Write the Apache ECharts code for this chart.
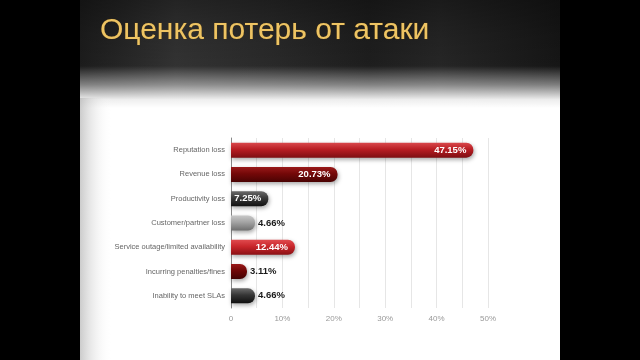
<!DOCTYPE html>
<html><head><meta charset="utf-8">
<script src="https://cdn.jsdelivr.net/npm/echarts@6/dist/echarts.min.js"></script>
<style>html,body{margin:0;padding:0;background:#000}#c{width:640px;height:360px}</style>
</head><body><div id="c"></div>
<script>
var categories = ['Reputation loss','Revenue loss','Productivity loss','Customer/partner loss','Service outage/limited availability','Incurring penalties/fines','Inability to meet SLAs'];
var values = [47.15, 20.73, 7.25, 4.66, 12.44, 3.11, 4.66];
var tickLabels = ['0','10%','20%','30%','40%','50%'];
var titleText = 'Оценка потерь от атаки';

var G = echarts.graphic.LinearGradient;
function grad(top, mid, bot){ return new G(0,0,0,1,[{offset:0,color:top},{offset:0.45,color:mid},{offset:1,color:bot}]); }
var styles = [
  {c:grad('#d9484c','#b81d23','#7e0e12'), inside:true},
  {c:grad('#9a1a1a','#740808','#4a0303'), inside:true},
  {c:grad('#6a6a6a','#3a3a3a','#111'), inside:true},
  {c:grad('#c8c8c8','#a3a3a3','#6f6f6f'), inside:false},
  {c:grad('#e04a4e','#c8262b','#8a1014'), inside:true},
  {c:grad('#9a1a1a','#6e0606','#420202'), inside:false},
  {c:grad('#6a6a6a','#353535','#0e0e0e'), inside:false}
];
var data = values.map(function(v,i){
  var s = styles[i];
  return {value:v, itemStyle:{color:s.c},
    label:{position: s.inside?'insideRight':'right', color: s.inside?'#fff':'#1a1a1a', distance: s.inside?7:3}};
});

var chart = echarts.init(document.getElementById('c'));
chart.setOption({
  backgroundColor:'#000',
  animation:false,
  graphic:[
    {type:'rect', z:-10, shape:{x:80,y:0,width:480,height:360},
      style:{fill:new G(1,0,0,0,[{offset:0,color:'#161616'},{offset:0.25,color:'#262626'},{offset:0.4,color:'#1e1e1e'},{offset:0.6,color:'#2a2a2a'},{offset:0.8,color:'#333'},{offset:1,color:'#1c1c1c'}])}},
    {type:'rect', z:-9, shape:{x:80,y:0,width:480,height:70},
      style:{fill:new G(0,0,0,1,[{offset:0,color:'rgba(0,0,0,0.3)'},{offset:0.5,color:'rgba(0,0,0,0.1)'},{offset:1,color:'rgba(0,0,0,0)'}])}},
    {type:'rect', z:-8, shape:{x:80,y:66,width:480,height:42},
      style:{fill:new G(0,0,0,1,[{offset:0,color:'rgba(255,255,255,0)'},{offset:0.45,color:'rgba(255,255,255,0.45)'},{offset:0.8,color:'rgba(255,255,255,0.92)'},{offset:1,color:'rgba(255,255,255,1)'}])}},
    {type:'rect', z:-8, shape:{x:80,y:108,width:480,height:252},
      style:{fill:'#ffffff'}},
    {type:'rect', z:-7, shape:{x:80,y:98,width:32,height:262},
      style:{fill:new G(0,0,1,0,[{offset:0,color:'rgba(170,170,170,0.6)'},{offset:1,color:'rgba(255,255,255,0)'}])}},
    {type:'rect', z:-6, shape:{x:0,y:0,width:80,height:360}, style:{fill:'#000'}},
    {type:'rect', z:-6, shape:{x:560,y:0,width:80,height:360}, style:{fill:'#000'}},
    {type:'text', z:10, x:100, y:16,
      style:{text:titleText, font:'30px "Liberation Sans", Arial, sans-serif',
        fill:'#eec463', stroke:'rgba(120,80,10,0.5)', lineWidth:0.6,
        shadowBlur:3, shadowColor:'rgba(0,0,0,0.8)', shadowOffsetY:1}}
  ],
  grid:{left:231, right:152, top:138, bottom:52, containLabel:false},
  xAxis:{type:'value', min:0, max:50, interval:5,
    axisLine:{show:false}, axisTick:{show:false},
    splitLine:{show:true, lineStyle:{color:'#e6e6e6', width:1}},
    axisLabel:{color:'#999', fontSize:8, fontFamily:'"Liberation Sans Narrow", "Liberation Sans", sans-serif', margin:7,
      formatter:function(v){ return v%10===0 ? tickLabels[v/10] : ''; }}
  },
  yAxis:{type:'category', inverse:true, data:categories,
    axisLine:{show:true, lineStyle:{color:'#888', width:1}}, axisTick:{show:false},
    axisLabel:{color:'#666', fontSize:7.5, fontFamily:'"Liberation Sans Narrow", "Liberation Sans", sans-serif', margin:6}
  },
  series:[{type:'bar', data:data, barWidth:15,
    itemStyle:{borderRadius:[0,7,7,0], shadowBlur:4, shadowColor:'rgba(0,0,0,0.35)', shadowOffsetY:2, shadowOffsetX:1},
    label:{show:true, fontSize:9.5, fontWeight:'bold', fontFamily:'"Liberation Sans Narrow", "Liberation Sans", sans-serif',
      formatter:function(p){ return p.value.toFixed(2)+'%'; }}
  }]
});
</script></body></html>
